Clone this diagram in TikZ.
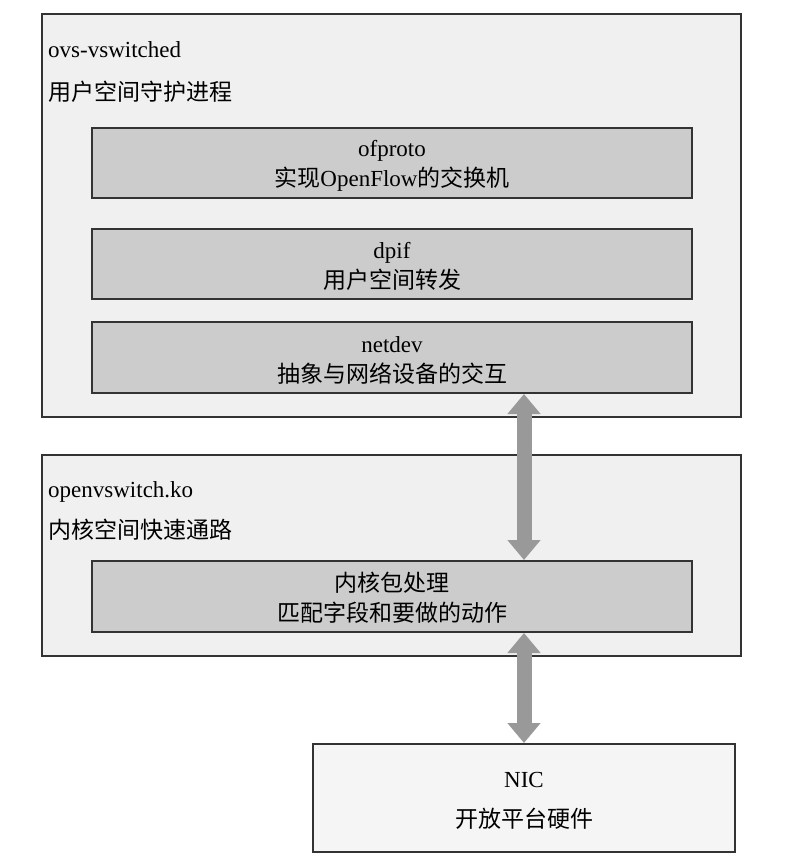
\documentclass[tikz,border=0pt]{standalone}
\usepackage{fontspec}
\setmainfont{Liberation Serif}
\newfontfamily\cjk{Noto Sans CJK SC}
\usetikzlibrary{arrows.meta}
\begin{document}
\begin{tikzpicture}[x=1pt,y=-1pt,
  outerbox/.style={draw=black!80,line width=1.2pt,fill=black!6},
  innerbox/.style={draw=black!80,line width=1.2pt,fill=black!20},
  lbl/.style={anchor=west,font=\fontsize{23}{26}\selectfont,inner sep=0},
  ctr/.style={align=center,font=\fontsize{23}{30}\selectfont},
  dbl/.style={line width=15pt,draw=black!40,{Triangle[length=20pt,width=32pt]}-{Triangle[length=20pt,width=32pt]}}]
\useasboundingbox[fill=white] (0,0) rectangle (801,865);
\draw[outerbox] (42,14) rectangle (741,417);
\node[lbl] (t1) at (48,50) {ovs-vswitched};
\node[lbl] (t2) at (48,92) {\cjk 用户空间守护进程};
\draw[innerbox] (92,128) rectangle (692,198);
\node[ctr] (ofp) at (392,166) {ofproto\\{\cjk 实现}OpenFlow{\cjk 的交换机}};
\draw[innerbox] (92,229) rectangle (692,299);
\node[ctr] (dpif) at (392,266) {dpif\\{\cjk 用户空间转发}};
\draw[innerbox] (92,322) rectangle (692,393);
\node[ctr] (nd) at (392,360) {netdev\\{\cjk 抽象与网络设备的交互}};
\draw[outerbox] (42,455) rectangle (741,656);
\node[lbl] (t3) at (48,492) {openvswitch.ko};
\node[lbl] (t4) at (48,530) {\cjk 内核空间快速通路};
\draw[innerbox] (92,561) rectangle (692,632);
\node[ctr] (kp) at (392,598) {{\cjk 内核包处理}\\{\cjk 匹配字段和要做的动作}};
\draw[outerbox,fill=black!4] (313,744) rectangle (735,852);
\node[ctr] (nic) at (524,801) {NIC\\[10pt]{\cjk 开放平台硬件}};
\coordinate (a1) at (524,394);
\coordinate (a2) at (524,560);
\coordinate (a3) at (524,633);
\coordinate (a4) at (524,743);
\draw[dbl] (a1) -- (a2);
\draw[dbl] (a3) -- (a4);
\end{tikzpicture}
\end{document}
